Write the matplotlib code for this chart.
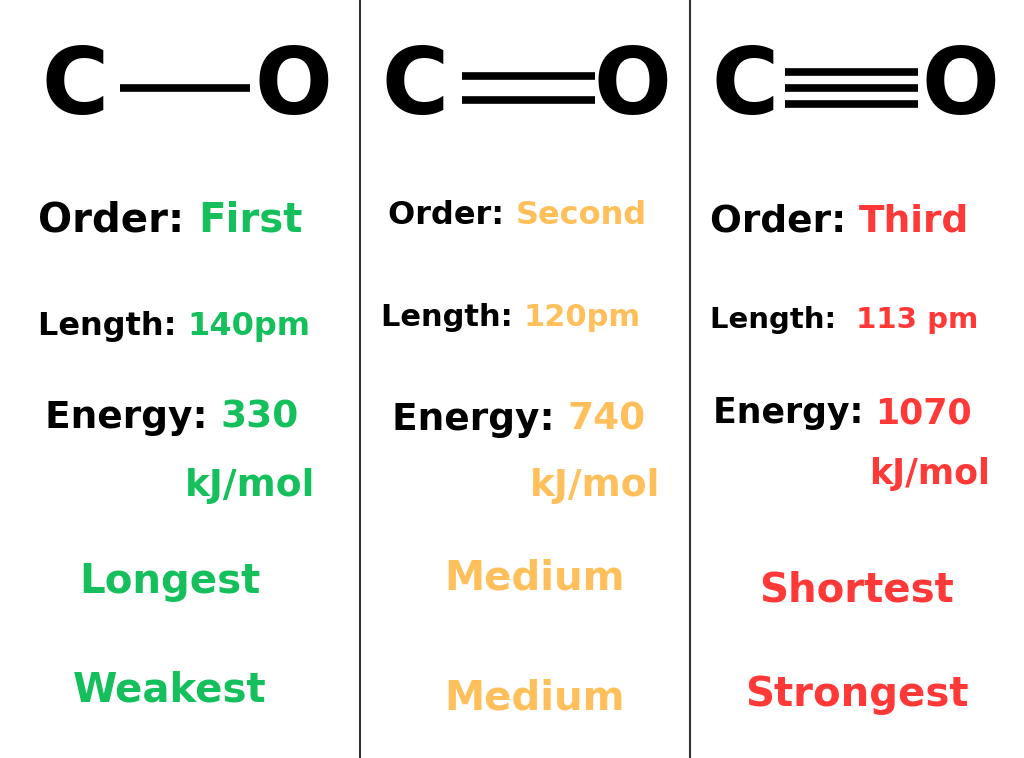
import matplotlib
matplotlib.use("Agg")
import matplotlib.pyplot as plt

FONT = ["DejaVu Sans"]
GREEN, ORANGE, RED = "#14BF5C", "#FFBF5A", "#FF3838"

# data, one entry per column
colors = [GREEN, ORANGE, RED]
bond_counts = [1, 2, 3]
orders = ["First", "Second", "Third"]
lengths = ["140pm", "120pm", " 113 pm"]
energies = ["330", "740", "1070"]
length_words = ["Longest", "Medium", "Shortest"]
strength_words = ["Weakest", "Medium", "Strongest"]

# layout (pixels, y from top)
c_x = [75, 415, 745]
o_x = [293, 632, 960]
bond_x = [(120, 250), (462, 595), (785, 918)]
order_pos = [(38, 220, 29), (388, 215, 23), (710, 222, 27)]
length_pos = [(38, 326, 23), (381, 318, 22), (710, 320, 21)]
energy_pos = [(45, 418, 27), (392, 420, 27), (713, 413, 25)]
unit_pos = [(315, 486, 27), (660, 486, 27), (990, 474, 25)]
word_pos = [(170, 582, 690, 29), (535, 578, 698, 29), (857, 590, 695, 29)]

fig = plt.figure(figsize=(10.24, 7.58), dpi=100)
ax = fig.add_axes([0, 0, 1, 1])
ax.set_xlim(0, 1024)
ax.set_ylim(758, 0)
ax.axis("off")

for x in (360, 690):
    ax.plot([x, x], [0, 758], color="#333333", lw=1.5)

def pair(x, y, size, label, value, color):
    t = ax.text(x, y, label, fontsize=size, fontweight="bold", family=FONT,
                va="center", ha="left", color="black")
    fig.canvas.draw()
    bb = t.get_window_extent()
    x2 = ax.transData.inverted().transform((bb.x1, bb.y0))[0]
    ax.text(x2, y, value, fontsize=size, fontweight="bold", family=FONT,
            va="center", ha="left", color=color)

for i in range(3):
    col = colors[i]
    ax.text(c_x[i], 88, "C", fontsize=66, fontweight="bold", family=FONT,
            ha="center", va="center")
    ax.text(o_x[i], 88, "O", fontsize=66, fontweight="bold", family=FONT,
            ha="center", va="center")
    n = bond_counts[i]
    gap = 16 if n == 3 else 24
    for k in range(n):
        y = 88 + (k - (n - 1) / 2) * gap
        ax.plot(bond_x[i], [y, y], color="black", lw=5.5, solid_capstyle="butt")

    x, y, s = order_pos[i]
    pair(x, y, s, "Order: ", orders[i], col)
    x, y, s = length_pos[i]
    pair(x, y, s, "Length: ", lengths[i], col)
    x, y, s = energy_pos[i]
    pair(x, y, s, "Energy: ", energies[i], col)
    x, y, s = unit_pos[i]
    ax.text(x, y, "kJ/mol", fontsize=s, fontweight="bold", family=FONT,
            ha="right", va="center", color=col)
    x, y1, y2, s = word_pos[i]
    ax.text(x, y1, length_words[i], fontsize=s, fontweight="bold", family=FONT,
            ha="center", va="center", color=col)
    ax.text(x, y2, strength_words[i], fontsize=s, fontweight="bold", family=FONT,
            ha="center", va="center", color=col)

fig.savefig("out.png", dpi=100)
